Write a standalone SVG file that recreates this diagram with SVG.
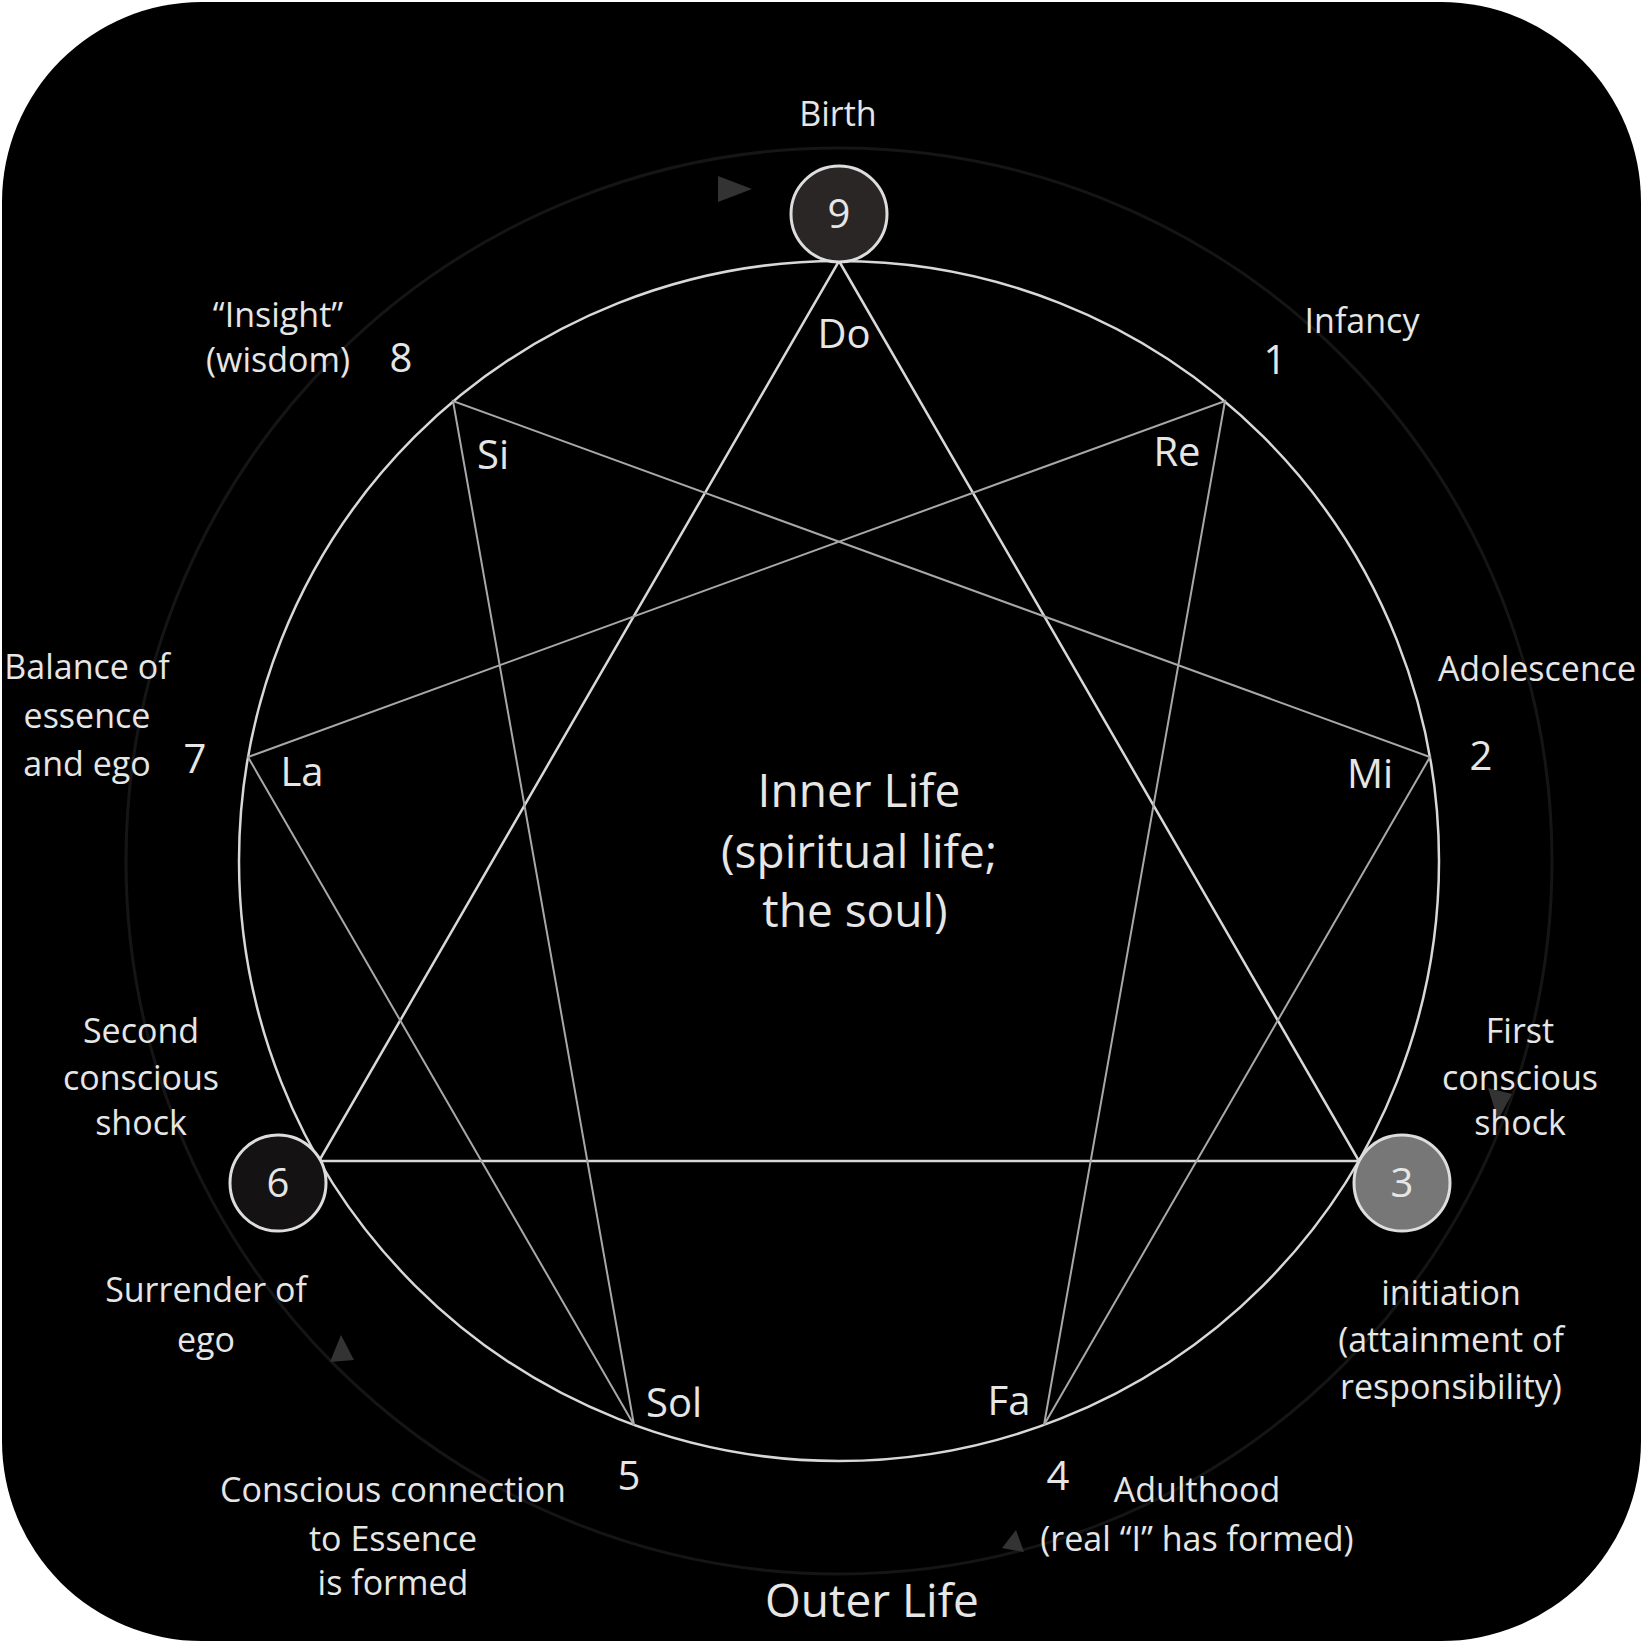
<svg xmlns="http://www.w3.org/2000/svg" width="1643" height="1643" viewBox="0 0 1643 1643">
<style>
text{font-family:"Open Sans","DejaVu Sans",sans-serif;fill:#e6e6e6;text-anchor:middle;font-size:34px}
.n{font-size:40px}
.big{font-size:46px}
.ln{stroke:#d8d8d8;stroke-width:2.5;fill:none}
.ar{fill:#333}
</style>
<rect x="0" y="0" width="1643" height="1643" fill="#fff"/>
<rect x="2" y="2" width="1639" height="1639" rx="200" fill="#000"/>
<g id="outer-cycle">
<circle cx="839" cy="861" r="713" fill="none" stroke="#151515" stroke-width="3"/>
<polygon class="ar" points="752,189 718,176 718,202"/>
<polygon class="ar" points="1498,1120 1488,1088 1512,1094"/>
<polygon class="ar" points="1002,1548 1016,1530 1024,1552"/>
<polygon class="ar" points="341,1335 330,1362 354,1360"/>
</g>
<g id="connectors">
<circle class="ln" cx="839" cy="861" r="600"/>
<polygon class="ln" points="839,261 1359,1161 319,1161"/>
<polygon class="ln" points="1225,401 1044,1425 1430,757 453,401 634,1425 248,757" style="stroke:#a8a8a8;stroke-width:2"/>
</g>
<g id="node9"><circle cx="839" cy="214" r="48" fill="#2a2626" stroke="#ddd" stroke-width="3"/><text class="n" x="839" y="228">9</text></g>
<g id="node6"><circle cx="278" cy="1183" r="48" fill="#141212" stroke="#ddd" stroke-width="3"/><text class="n" x="278" y="1197">6</text></g>
<g id="node3"><circle cx="1402" cy="1183" r="48" fill="#777" stroke="#ddd" stroke-width="3"/><text class="n" x="1402" y="1197">3</text></g>
<g id="labels">
<text x="838" y="126">Birth</text>
<text x="278" y="327">“Insight”</text><text x="278" y="372">(wisdom)</text>
<text class="n" x="401" y="372">8</text>
<text x="1362" y="333">Infancy</text><text class="n" x="1275" y="374">1</text>
<text class="n" x="844" y="348">Do</text>
<text class="n" x="493" y="469">Si</text>
<text class="n" x="1177" y="466">Re</text>
<text class="n" x="302" y="786">La</text>
<text class="n" x="1370" y="788">Mi</text>
<text class="n" x="674" y="1417">Sol</text>
<text class="n" x="1009" y="1415">Fa</text>
<text x="87" y="679">Balance of</text><text x="87" y="728">essence</text><text x="87" y="776">and ego</text>
<text class="n" x="195" y="773">7</text>
<text x="1537" y="681">Adolescence</text><text class="n" x="1481" y="770">2</text>
<text class="big" x="859" y="807">Inner Life</text>
<text class="big" x="859" y="868">(spiritual life;</text>
<text class="big" x="855" y="927">the soul)</text>
<text x="141" y="1043">Second</text><text x="141" y="1090">conscious</text><text x="141" y="1135">shock</text>
<text x="1520" y="1043">First</text><text x="1520" y="1090">conscious</text><text x="1520" y="1135">shock</text>
<text x="206" y="1302">Surrender of</text><text x="206" y="1352">ego</text>
<text x="1451" y="1305">initiation</text><text x="1451" y="1352">(attainment of</text><text x="1451" y="1399">responsibility)</text>
<text class="n" x="629" y="1490">5</text><text class="n" x="1058" y="1490">4</text>
<text x="393" y="1502">Conscious connection</text><text x="393" y="1551">to Essence</text><text x="393" y="1595">is formed</text>
<text x="1197" y="1502">Adulthood</text><text x="1197" y="1551">(real “I” has formed)</text>
<text class="big" x="872" y="1617">Outer Life</text>
</g>
</svg>
